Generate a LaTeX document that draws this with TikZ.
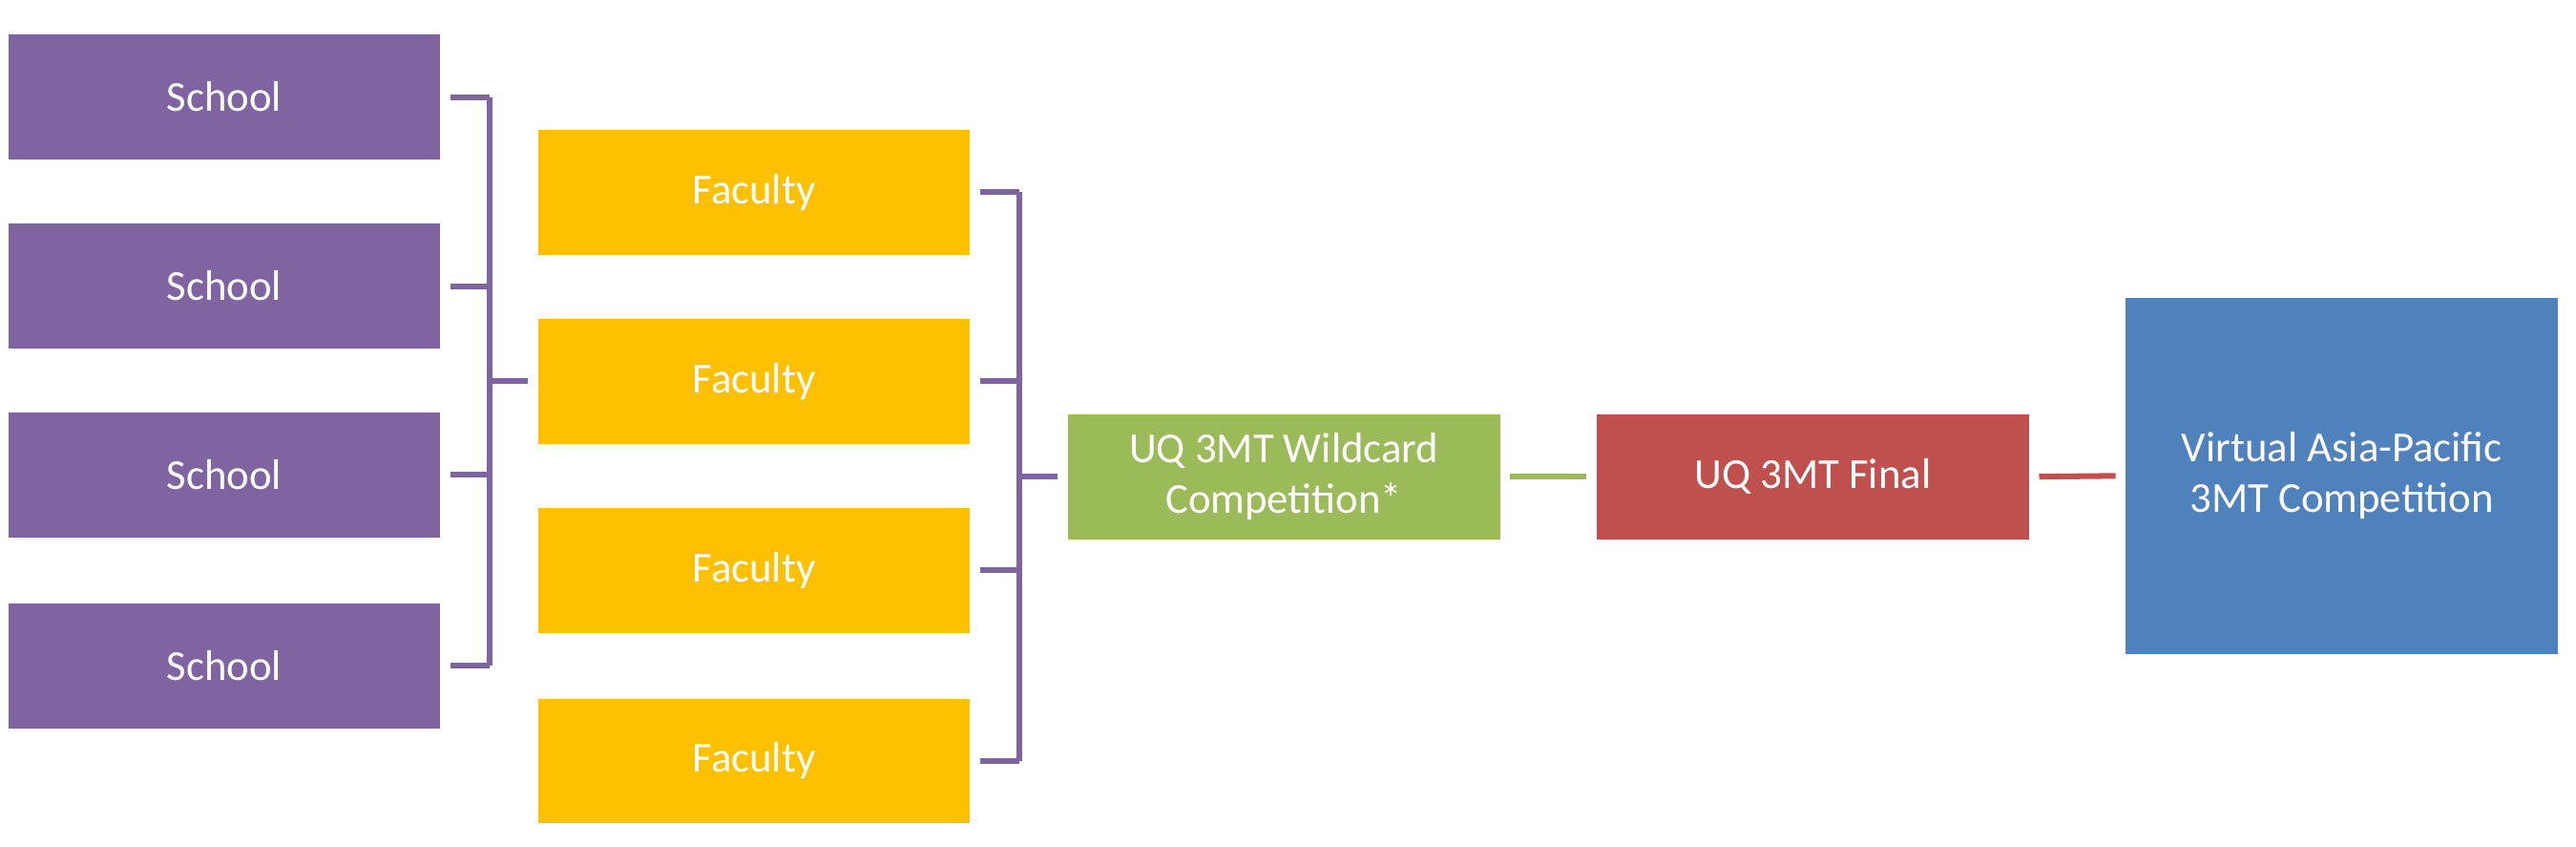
\documentclass[tikz,border=0pt]{standalone}
\usepackage{fontspec}
\setmainfont{Carlito}
\definecolor{cpurple}{HTML}{8064A2}
\definecolor{cyellow}{HTML}{FFC000}
\definecolor{cgreen}{HTML}{9BBB59}
\definecolor{cred}{HTML}{C0504D}
\definecolor{cblue}{HTML}{4F81BD}
\begin{document}
\begin{tikzpicture}[x=1pt,y=-1pt,
  box/.style={draw=none,minimum width=263pt,minimum height=76pt,text=white,font=\fontsize{26}{31}\selectfont,align=center,inner sep=0pt},
  br/.style={line width=3.5pt}]
\useasboundingbox (0,0) rectangle (1568,515);
\foreach \i/\y in {1/59,2/174,3/289,4/405}
  \node[box,fill=cpurple] (s\i) at (136.5,\y) {School};
\foreach \i/\y in {1/117,2/232,3/347,4/463}
  \node[box,fill=cyellow] (f\i) at (459,\y) {Faculty};
\node[box,fill=cgreen] (w) at (781.5,290) {UQ 3MT Wildcard\\Competition*};
\node[box,fill=cred] (u) at (1103.5,290) {UQ 3MT Final};
\node[box,fill=cblue,minimum height=217pt] (v) at (1425.5,289.5) {Virtual Asia-Pacific\\3MT Competition};
% bracket 1
\draw[br,cpurple] ([xshift=6pt]s1.east) -- ++(24,0) coordinate (b1t);
\draw[br,cpurple] ([xshift=6pt]s4.east) -- ++(24,0) coordinate (b1b);
\draw[br,cpurple] (b1t) -- (b1b);
\foreach \i in {2,3} \draw[br,cpurple] ([xshift=6pt]s\i.east) -- ++(24,0);
\draw[br,cpurple] ([xshift=-6pt]f2.west) -- ++(-24,0);
% bracket 2
\draw[br,cpurple] ([xshift=6pt]f1.east) -- ++(24,0) coordinate (b2t);
\draw[br,cpurple] ([xshift=6pt]f4.east) -- ++(24,0) coordinate (b2b);
\draw[br,cpurple] (b2t) -- (b2b);
\foreach \i in {2,3} \draw[br,cpurple] ([xshift=6pt]f\i.east) -- ++(24,0);
\draw[br,cpurple] ([xshift=-6pt]w.west) -- ++(-24,0);
\draw[br,cgreen] ([xshift=6pt]w.east) -- ([xshift=-6pt]u.west);
\draw[br,cred] ([xshift=6pt]u.east) -- ([xshift=-6pt]v.west);
\end{tikzpicture}
\end{document}
